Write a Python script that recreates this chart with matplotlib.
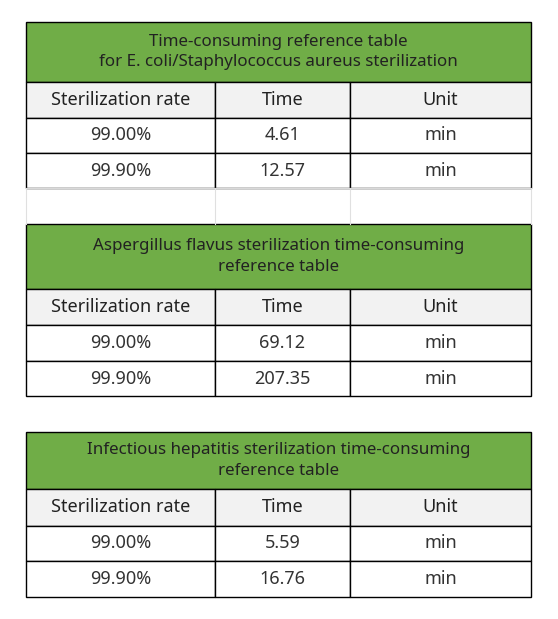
import matplotlib
matplotlib.use("Agg")
import matplotlib.pyplot as plt
from matplotlib.patches import Rectangle

titles = ["Time-consuming reference table\nfor E. coli/Staphylococcus aureus sterilization",
          "Aspergillus flavus sterilization time-consuming\nreference table",
          "Infectious hepatitis sterilization time-consuming\nreference table"]
headers = ["Sterilization rate", "Time", "Unit"]
rates = ["99.00%", "99.90%"]
times = [["4.61", "12.57"], ["69.12", "207.35"], ["5.59", "16.76"]]
unit = "min"

W, H = 558, 619
fig = plt.figure(figsize=(W/100, H/100), dpi=100)
ax = fig.add_axes([0, 0, 1, 1])
ax.set_xlim(0, W); ax.set_ylim(H, 0); ax.axis("off")

cols = [26, 215, 350, 531]
green = "#70ad47"; grey = "#f2f2f2"
layouts = [(22, 82, 118, 153, 188), (224, 289, 325, 361, 396), (432, 489, 526, 561, 597)]

# faint gap row gridlines
ax.plot([cols[0], cols[-1]], [188, 188], color="#d9d9d9", lw=0.8)
for c in cols:
    ax.plot([c, c], [188, 224], color="#e0e0e0", lw=0.8)

fp = dict(family="Microsoft YaHei" if False else "Noto Sans", color="#222222")
for t, (y0, y1, y2, y3, y4) in enumerate(layouts):
    ax.add_patch(Rectangle((cols[0], y0), cols[-1]-cols[0], y1-y0, fc=green, ec="black", lw=1))
    ax.text((cols[0]+cols[-1])/2, (y0+y1)/2, titles[t], ha="center", va="center",
            fontsize=12.2, fontweight="bold", linespacing=1.35, **fp)
    for i in range(3):
        ax.add_patch(Rectangle((cols[i], y1), cols[i+1]-cols[i], y2-y1, fc=grey, ec="black", lw=1))
        ax.text((cols[i]+cols[i+1])/2, (y1+y2)/2, headers[i], ha="center", va="center",
                fontsize=13, fontweight="bold", **fp)
    for r, (ya, yb) in enumerate([(y2, y3), (y3, y4)]):
        vals = [rates[r], times[t][r], unit]
        for i in range(3):
            ax.add_patch(Rectangle((cols[i], ya), cols[i+1]-cols[i], yb-ya, fc="white", ec="black", lw=1))
            ax.text((cols[i]+cols[i+1])/2, (ya+yb)/2, vals[i], ha="center", va="center",
                    fontsize=13, color="#333333", family="Noto Sans")

fig.savefig("out.png", dpi=100)
